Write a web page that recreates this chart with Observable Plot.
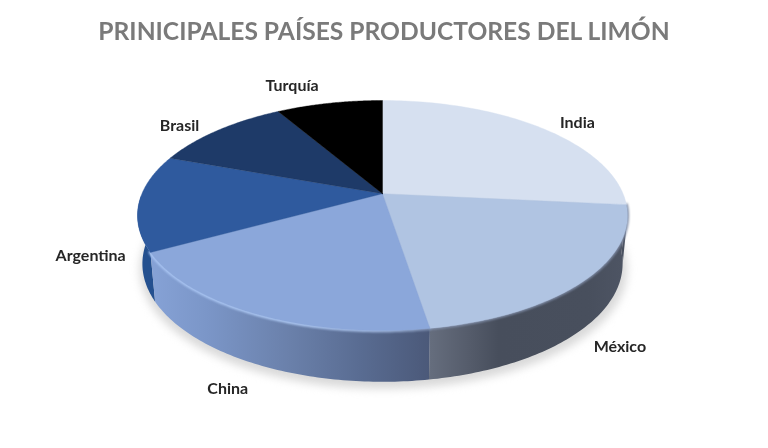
<!DOCTYPE html>
<html><head><meta charset="utf-8">
<script src="https://cdn.jsdelivr.net/npm/d3@7"></script>
<script src="https://cdn.jsdelivr.net/npm/@observablehq/plot@0.6"></script>
<style>
html,body{margin:0;padding:0;background:#fff;overflow:hidden}
#title{height:50px;text-align:center;font:700 24.6px/61px Lato,sans-serif;color:#7a7a7a;filter:blur(.5px);white-space:nowrap}
svg{display:block;filter:blur(.55px)}
</style></head><body>
<div id="title"></div>
<div id="chart"></div>
<script>
const chartTitle = "PRINICIPALES PAÍSES PRODUCTORES DEL LIMÓN";
const countries = ["India","México","China","Argentina","Brasil","Turquía"];
const shares = [23.5,23.4,22.9,13.5,9.7,7.0];
const topColors = ["#d6e0f0","#b0c4e2","#8ba7da","#2f5a9e","#1e3a68","#000000"];
const wallFills = ["#4a5160","url(#wallMexico)","url(#wallChina)","#24508f","#1e3a68","#000000"];

// layout settings (pixels / unit-circle factors)
const labelNudge = {India:[30,-8],"México":[41,63],China:[-32,74],Argentina:[-48,52],Brasil:[-37,-5],"Turquía":[-37,-17]};
const apexLift = 0.19, floorDrop = -0.42, floorX = 0.98, floorY = 1.026;

const total = d3.sum(shares);
let acc = 0;
const slices = countries.map((name,i)=>{
  const a0 = acc/total*2*Math.PI; acc += shares[i];
  return {name,a0,a1:acc/total*2*Math.PI,top:topColors[i],wall:wallFills[i]};
});
const arcPts = (a0,a1,n=80)=>d3.range(n+1).map(k=>a0+(a1-a0)*k/n);
const rim = t=>({x:Math.sin(t),y:Math.cos(t)});
const floor = t=>({x:floorX*Math.sin(t),y:floorDrop+floorY*Math.cos(t)});
const faceOf = s=>[{x:0,y:apexLift},...arcPts(s.a0,s.a1).map(rim)];
const wallOf = (a0,a1)=>[...arcPts(a0,a1).map(rim),...arcPts(a0,a1).reverse().map(floor)];
const closed = p=>[...p,p[0]];
const xy = {x:"x",y:"y"};

const [india,mexico,china,argentina] = slices;
const shadow = arcPts(0,2*Math.PI,160).map(t=>({x:floorX*1.015*Math.sin(t)+0.004,y:floorDrop-0.05+floorY*Math.cos(t)*1.01}));

const marks = [
  Plot.line(closed(shadow),{...xy,fill:"#d9d9d9",stroke:"none",imageFilter:"blur(4px)"}),
  Plot.line(closed(wallOf(argentina.a0,argentina.a0+0.5)),{...xy,fill:argentina.wall,stroke:"none"}),
  Plot.line(closed(wallOf(india.a1,india.a1+0.1)),{...xy,fill:"#4a5160",stroke:"none"}),
  Plot.line(closed(wallOf(mexico.a0,mexico.a1)),{...xy,fill:mexico.wall,stroke:"none"}),
  Plot.line(closed(wallOf(china.a0,china.a1)),{...xy,fill:china.wall,stroke:"none"}),
  Plot.line(arcPts(mexico.a0,mexico.a1).map(rim),{...xy,stroke:"#7f8ca6",strokeWidth:3,imageFilter:"blur(1.2px)"}),
  Plot.line(arcPts(china.a0,china.a1).map(rim),{...xy,stroke:"url(#rimChina)",strokeWidth:3.5,imageFilter:"blur(.9px)"}),
  ...slices.map(s=>Plot.line(closed(faceOf(s)),{...xy,fill:s.top,stroke:s.top,strokeWidth:.4})),
  ...slices.map(s=>{
    const m = rim((s.a0+s.a1)/2), [dx,dy] = labelNudge[s.name];
    return Plot.text([{...m,name:s.name}],{...xy,text:"name",dx,dy,fontFamily:"Lato,sans-serif",fontWeight:700,fontSize:16,fill:"#262626"});
  })
];

const svg = Plot.plot({
  width:768,height:398,margin:0,
  style:{background:"#fff",overflow:"visible"},
  x:{domain:[-1,1],range:[137,627],axis:null},
  y:{domain:[-1,1],range:[280,50],axis:null},
  marks
});

const defs = d3.select(svg).insert("defs",":first-child");
const grad = (id,stops)=>{
  const g = defs.append("linearGradient").attr("id",id);
  stops.forEach(([o,c])=>g.append("stop").attr("offset",o).attr("stop-color",c));
};
grad("wallChina",[[0,"#86a2d6"],[.2,"#7b96c8"],[.5,"#6a80aa"],[.75,"#596c92"],[1,"#4b5979"]]);
grad("wallMexico",[[0,"#666e7e"],[.2,"#555c6b"],[.35,"#474e5c"],[.8,"#484f5d"],[1,"#4e5564"]]);
grad("rimChina",[[0,"#a9c5f3"],[.55,"#b0cbf5"],[.85,"#9db4dc"],[1,"#7e8fb0"]]);

document.getElementById("title").textContent = chartTitle;
document.getElementById("chart").append(svg);
</script>
</body></html>
